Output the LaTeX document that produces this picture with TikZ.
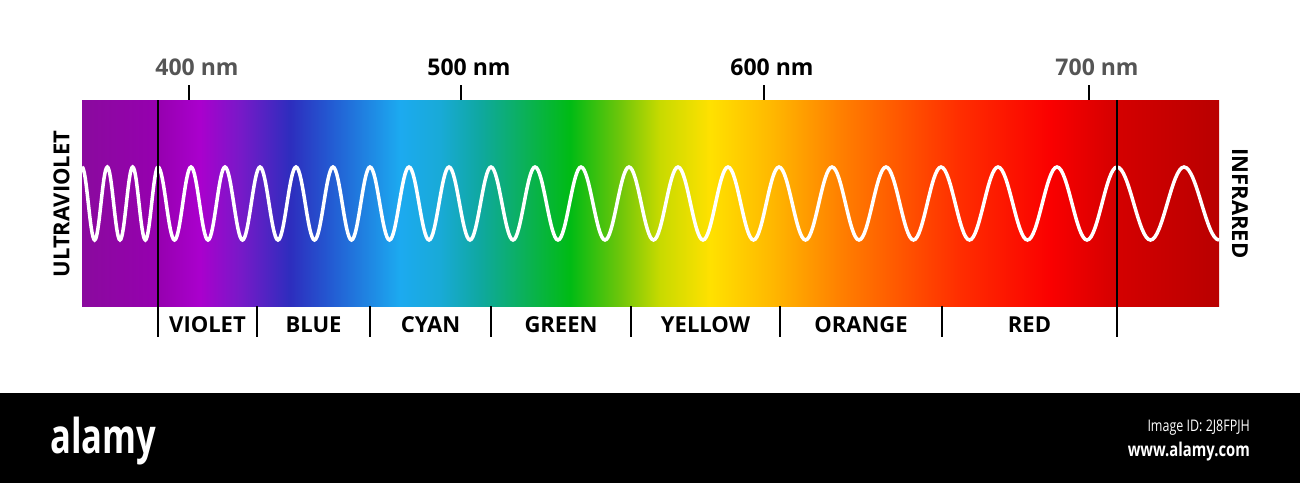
\documentclass[tikz,border=0pt]{standalone}
\usepackage{fontspec}
\setmainfont{Open Sans}
\usepackage{tikz}
\usepackage{xcolor}

\definecolor{sp0}{RGB}{138,10,158}
\definecolor{sp1}{RGB}{150,0,175}
\definecolor{sp2}{RGB}{170,0,205}
\definecolor{sp3}{RGB}{120,25,200}
\definecolor{sp4}{RGB}{45,45,190}
\definecolor{sp5}{RGB}{35,90,210}
\definecolor{sp6}{RGB}{28,170,240}
\definecolor{sp7}{RGB}{25,170,215}
\definecolor{sp8}{RGB}{15,168,160}
\definecolor{sp9}{RGB}{10,178,80}
\definecolor{sp10}{RGB}{0,187,20}
\definecolor{sp11}{RGB}{110,198,10}
\definecolor{sp12}{RGB}{200,218,0}
\definecolor{sp13}{RGB}{255,225,0}
\definecolor{sp14}{RGB}{255,185,0}
\definecolor{sp15}{RGB}{255,128,0}
\definecolor{sp16}{RGB}{255,45,0}
\definecolor{sp17}{RGB}{250,0,0}
\definecolor{sp18}{RGB}{212,0,0}
\definecolor{sp19}{RGB}{185,0,0}
\definecolor{nmgray}{RGB}{85,85,85}

\pgfdeclarehorizontalshading{spectrum}{100bp}{color(0bp)=(sp0); color(25bp)=(sp0);
  color(28.34bp)=(sp1); color(30.19bp)=(sp2); color(31.95bp)=(sp3); color(34.15bp)=(sp4);
  color(35.91bp)=(sp5); color(38.98bp)=(sp6); color(40.74bp)=(sp7); color(42.5bp)=(sp8);
  color(44.7bp)=(sp9); color(46.46bp)=(sp10); color(48.66bp)=(sp11); color(50.42bp)=(sp12);
  color(52.62bp)=(sp13); color(55.26bp)=(sp14); color(58.33bp)=(sp15); color(63.61bp)=(sp16);
  color(67.57bp)=(sp17); color(70.51bp)=(sp18); color(75bp)=(sp19); color(100bp)=(sp19)}

\begin{document}
\begin{tikzpicture}[x=1pt, y=-1pt,
    wave/.style={white, line width=3.5pt},
    divider/.style={line width=2pt},
    band/.style={font=\bfseries\fontsize{22}{22}\selectfont, anchor=base},
    nmlabel/.style={font=\bfseries\fontsize{23}{23}\selectfont, anchor=base}]
  \useasboundingbox (0,0) rectangle (1300,483);
  \shade[shading=spectrum] (82,100) rectangle (1219,306);
  % wave, getting longer to the right
  \draw[wave] (82,167) \foreach \x [remember=\x as \px (initially 82)] in {107.3,132.7,158,191,225,260,296,333,370,409,449,491,535,581,629,678,728,779,832,886,941,998,1057,1117,1184}
    { cos ({(3*\px+\x)/4},203.5) sin ({(\px+\x)/2},240) cos ({(\px+3*\x)/4},203.5) sin (\x,167) }
    cos (1201.5,203.5) sin (1219,240);
  \foreach \x in {158,1117} \draw[divider] (\x,100) -- (\x,337);
  \foreach \x in {257,370,491,631,780,942} \draw[divider] (\x,306) -- (\x,337);
  \foreach \x/\lab/\col in {189/400/nmgray,461/500/black,764/600/black,1089/700/nmgray} {
    \draw[divider] (\x,85) -- (\x,100);
    \node[nmlabel, text=\col] (nm\lab) at (\x+8,75) {\lab\ nm};
  }
  \foreach \a/\b/\name in {158/257/VIOLET,257/370/BLUE,370/491/CYAN,491/631/GREEN,631/780/YELLOW,780/942/ORANGE,942/1117/RED}
    \node[band] (\name) at ({(\a+\b)/2},332) {\name};
  \node[band, rotate=90, anchor=center] (uv) at (61.5,204) {ULTRAVIOLET};
  \node[band, rotate=-90, anchor=center] (ir) at (1240,203.5) {INFRARED};
  % stock bar
  \fill (0,393) rectangle (1300,483);
  \node[text=white, font=\bfseries\fontsize{48}{48}\selectfont, xscale=0.72, anchor=base west, inner sep=0pt] (logo) at (50,453) {alamy};
  \node[text=white, font=\fontsize{16}{16}\selectfont, xscale=0.78, anchor=base east, inner sep=0pt] (imgid) at (1250,431) {Image ID: 2J8FPJH};
  \node[text=white, font=\bfseries\fontsize{19}{19}\selectfont, xscale=0.78, anchor=base east, inner sep=0pt] (site) at (1250,456) {www.alamy.com};
\end{tikzpicture}
\end{document}
